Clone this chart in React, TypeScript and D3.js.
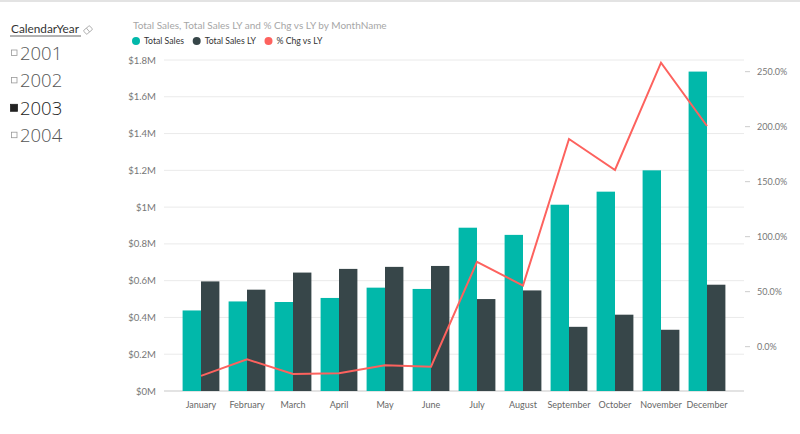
import React from 'react';
import * as d3 from 'd3';

// Data
const months = ['January', 'February', 'March', 'April', 'May', 'June', 'July', 'August', 'September', 'October', 'November', 'December'];
const totalSales = [0.438, 0.487, 0.484, 0.506, 0.562, 0.555, 0.888, 0.849, 1.013, 1.084, 1.200, 1.737].map(v => v * 1e6);
const totalSalesLY = [0.596, 0.551, 0.644, 0.664, 0.675, 0.680, 0.500, 0.547, 0.349, 0.415, 0.333, 0.578].map(v => v * 1e6);
const pctChg = [-26.6, -11.5, -24.8, -24.2, -16.9, -18.2, 77.0, 55.5, 188.8, 160.6, 258.2, 200.6];
const leftTicks = [0, 0.2, 0.4, 0.6, 0.8, 1.0, 1.2, 1.4, 1.6, 1.8].map(v => v * 1e6);
const rightTicks = [0, 50, 100, 150, 200, 250];
const years = ['2001', '2002', '2003', '2004'];
const selectedYear = '2003';

const legend = [
  { label: 'Total Sales', color: '#01B8AA' },
  { label: 'Total Sales LY', color: '#374649' },
  { label: '% Chg vs LY', color: '#FD625E' },
];

const FONT = 'Lato, "Open Sans", sans-serif';

const App = () => {
  const width = 800, height = 434;
  const plot = { left: 164, right: 744, top: 60, bottom: 391 };

  const x = d3.scaleBand().domain(months).range([178, 730]).paddingInner(0.2).paddingOuter(0.1);
  const yL = d3.scaleLinear().domain([0, 1.8e6]).range([plot.bottom, plot.top]);
  const yR = d3.scaleLinear().domain([-40.3, 260.6]).range([plot.bottom, plot.top]);
  const half = x.bandwidth() / 2;

  const line = d3.line<number>()
    .x((_, i) => x(months[i])! + half)
    .y(d => yR(d));

  const fmtL = (v: number) => `$${d3.format('~g')(v / 1e6)}M`;

  // legend x positions
  let lx = 136;
  const legendPos = legend.map(l => {
    const p = lx;
    lx += l.label.length * 3.7 + 20;
    return p;
  });

  return (
    <svg width={width} height={height} style={{ position: 'absolute', left: 0, top: 0, background: '#fff' }} fontFamily={FONT}>
      <rect x={0} y={0} width={width} height={2} fill="#e3e3e3" />

      {/* Slicer */}
      <text x={11} y={33} fontSize={11.8} fill="#333">CalendarYear</text>
      <line x1={10} x2={81} y1={36} y2={36} stroke="#666" strokeWidth={1} />
      <g transform="translate(88,30) rotate(-40)" stroke="#aaa" fill="none" strokeWidth={0.9}>
        <rect x={-4} y={-2.5} width={8} height={5} rx={1} />
        <line x1={0} x2={0} y1={-2.5} y2={2.5} />
      </g>
      {years.map((yr, i) => {
        const by = 60 + i * 27.4;
        const sel = yr === selectedYear;
        return (
          <g key={yr}>
            <rect x={sel ? 10.5 : 11.5} y={by - 10 + (sel ? -0.5 : 0)} width={sel ? 7 : 5.5} height={sel ? 7 : 5.5}
              fill={sel ? '#222' : '#fff'} stroke={sel ? '#222' : '#999'} strokeWidth={0.8} />
            <text x={20} y={by} fontSize={18.5} fontFamily='"Open Sans", sans-serif' fontWeight={300} fill={sel ? '#222' : '#555'}>{yr}</text>
          </g>
        );
      })}

      {/* Title + legend */}
      <text x={133} y={29} fontSize={10} fill="#a6a6a6">Total Sales, Total Sales LY and % Chg vs LY by MonthName</text>
      {legend.map((l, i) => (
        <g key={l.label}>
          <circle cx={legendPos[i]} cy={41} r={4} fill={l.color} />
          <text x={legendPos[i] + 8} y={44.3} fontSize={8.7} fill="#333">{l.label}</text>
        </g>
      ))}

      {/* Grid */}
      {leftTicks.map(t => (
        <g key={t}>
          <line x1={plot.left} x2={plot.right} y1={yL(t)} y2={yL(t)} stroke={t === 0 ? '#c8c8c8' : '#eaeaea'} strokeWidth={t === 0 ? 1.2 : 1} />
          <text x={156} y={yL(t) + 3.5} fontSize={9.6} fill="#777" textAnchor="end">{fmtL(t)}</text>
        </g>
      ))}
      {rightTicks.map(t => (
        <g key={t}>
          <line x1={745} x2={750} y1={yR(t)} y2={yR(t)} stroke="#ccc" />
          <text x={757} y={yR(t) + 3.5} fontSize={9} fill="#777">{d3.format('.1f')(t)}%</text>
        </g>
      ))}

      {/* Bars */}
      {months.map((m, i) => (
        <g key={m}>
          <rect x={x(m)!} y={yL(totalSales[i])} width={half} height={yL(0) - yL(totalSales[i])} fill="#01B8AA" />
          <rect x={x(m)! + half} y={yL(totalSalesLY[i])} width={half} height={yL(0) - yL(totalSalesLY[i])} fill="#374649" />
          <text x={x(m)! + half} y={408} fontSize={9} fill="#666" textAnchor="middle">{m}</text>
        </g>
      ))}

      {/* Line */}
      <path d={line(pctChg)!} fill="none" stroke="#FD625E" strokeWidth={2} strokeLinejoin="miter" />
    </svg>
  );
};

export default App;
